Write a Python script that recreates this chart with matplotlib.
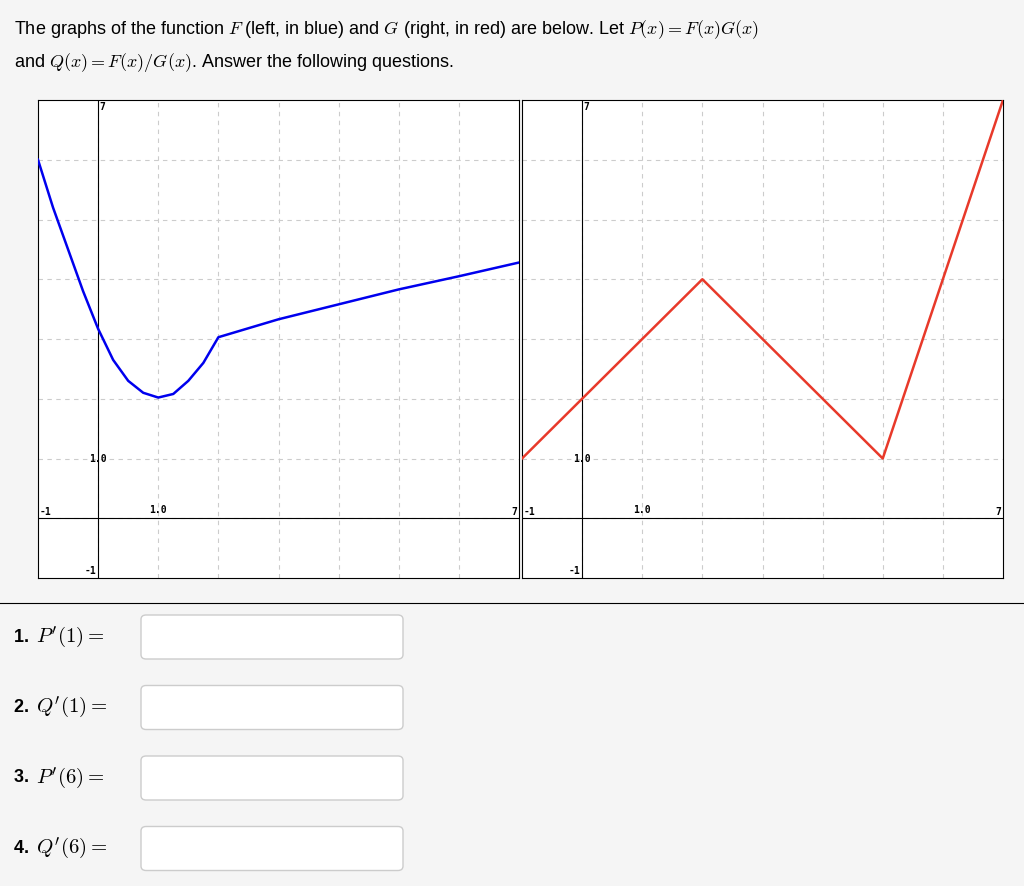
import matplotlib
matplotlib.use("Agg")
import matplotlib.pyplot as plt
from matplotlib.patches import FancyBboxPatch

plt.rcParams["mathtext.fontset"] = "cm"

F_x = [-1, -0.75, -0.5, -0.25, 0, 0.25, 0.5, 0.75, 1, 1.25, 1.5, 1.75, 2, 3, 4, 5, 6, 7]
F_y = [6, 5.2, 4.5, 3.8, 3.17, 2.65, 2.3, 2.1, 2.02, 2.08, 2.3, 2.6, 3.03, 3.33, 3.58, 3.83, 4.05, 4.28]
G_x = [-1, 0, 2, 5, 7]
G_y = [1, 2, 4, 1, 7]
questions = ["P'(1)", "Q'(1)", "P'(6)", "Q'(6)"]

W, H = 1024, 886
fig = plt.figure(figsize=(W/100, H/100), dpi=100)
fig.patch.set_facecolor("#f5f5f5")

def px(x, y):
    return x / W, 1 - y / H

fig.text(*px(14, 30), r"The graphs of the function $F$ (left, in blue) and $G$ (right, in red) are below. Let $P(x) = F(x)G(x)$",
         fontsize=13, va="center", family="Liberation Sans")
fig.text(*px(14, 62), r"and $Q(x) = F(x)/G(x)$. Answer the following questions.",
         fontsize=13, va="center", family="Liberation Sans")

def make_ax(left, xs, ys, color):
    ax = fig.add_axes([left / W, (H - 578) / H, 481 / W, 478 / H])
    ax.set_xlim(-1, 7); ax.set_ylim(-1, 7)
    for v in range(0, 7):
        ax.axvline(v, color="#cccccc", ls=(0, (4, 4)), lw=0.8, zorder=0)
        ax.axhline(v, color="#cccccc", ls=(0, (4, 4)), lw=0.8, zorder=0)
    ax.axhline(0, color="black", lw=0.8)
    ax.axvline(0, color="black", lw=0.8)
    ax.plot(xs, ys, color=color, lw=1.8, zorder=3)
    ax.set_xticks([]); ax.set_yticks([])
    for s in ax.spines.values():
        s.set_linewidth(0.8)
    kw = dict(fontsize=7, family="DejaVu Sans Mono", fontweight="bold")
    ax.text(-0.97, 0.02, "-1", va="bottom", **kw)
    ax.text(6.97, 0.02, "7", va="bottom", ha="right", **kw)
    ax.text(0.02, 6.97, "7", va="top", **kw)
    ax.text(-0.03, -0.97, "-1", va="bottom", ha="right", **kw)
    ax.text(0.0, 1.0, "1.0", ha="center", va="center", **kw)
    ax.text(1.0, 0.05, "1.0", ha="center", va="bottom", **kw)
    return ax

make_ax(38, F_x, F_y, "#0000ee")
make_ax(522, G_x, G_y, "#e8392a")

fig.add_artist(plt.Line2D([0, 1], [1 - 603 / H] * 2, color="black", lw=0.8))

for i, q in enumerate(questions):
    yc = 637 + i * 70.5
    fig.text(*px(14, yc), f"{i+1}. ", fontsize=13, fontweight="bold", va="center", family="Liberation Sans")
    qm = q.replace("'", "^{\\prime}")
    fig.text(*px(36, yc), rf"${qm[0]}{qm[1:]} =$", fontsize=15, va="center")
    x0, y0 = px(141, yc + 22)
    box = FancyBboxPatch((x0, y0), 262 / W, 44 / H, boxstyle="round,pad=0,rounding_size=0.005",
                         transform=fig.transFigure, facecolor="white", edgecolor="#cccccc", lw=1)
    fig.add_artist(box)

fig.savefig("out.png", dpi=100, facecolor=fig.get_facecolor())
